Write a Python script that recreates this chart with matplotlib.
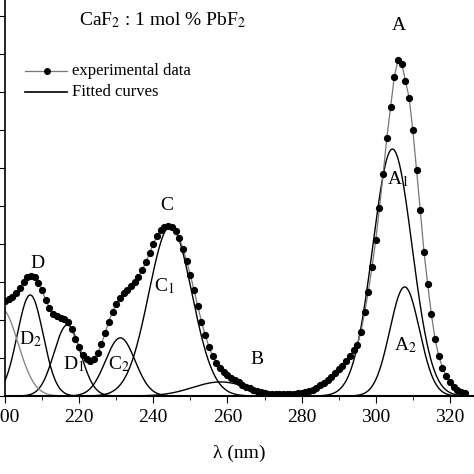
import numpy as np
import matplotlib
matplotlib.use("Agg")
import matplotlib.pyplot as plt

plt.rcParams['font.family'] = ['Liberation Serif', 'DejaVu Serif']
plt.rcParams['mathtext.fontset'] = 'stix'

# experimental data (nm, intensity in arbitrary units)
exp_x = list(range(200, 325))
exp_y = [2.5, 2.55, 2.6, 2.7, 2.85, 3.0, 3.12, 3.16, 3.12, 2.98, 2.78,
         2.52, 2.32, 2.17, 2.1, 2.06, 2.02, 1.94, 1.76, 1.5, 1.28,
         1.08, 0.97, 0.93, 0.98, 1.12, 1.36, 1.66, 1.96, 2.22, 2.42,
         2.58, 2.7, 2.8, 2.9, 3.0, 3.14, 3.32, 3.52, 3.76, 4.0,
         4.22, 4.38, 4.46, 4.48, 4.45, 4.33, 4.15, 3.88, 3.55, 3.18,
         2.78, 2.36, 1.96, 1.6, 1.3, 1.05, 0.88, 0.75, 0.64, 0.56,
         0.48, 0.42, 0.36, 0.3, 0.25, 0.2, 0.16, 0.13, 0.1, 0.08,
         0.06, 0.05, 0.04, 0.04, 0.04, 0.04, 0.05, 0.06, 0.07, 0.08,
         0.1, 0.13, 0.17, 0.22, 0.28, 0.35, 0.42, 0.5, 0.6, 0.7,
         0.8, 0.92, 1.05, 1.2, 1.35, 1.68, 2.2, 2.75, 3.4, 4.1,
         4.95, 5.85, 6.8, 7.6, 8.4, 8.84, 8.75, 8.3, 7.85, 7.0,
         5.95, 4.9, 3.8, 2.95, 2.15, 1.5, 1.05, 0.75, 0.52, 0.36,
         0.24, 0.16, 0.1, 0.07]

# fitted gaussian components: name, center (nm), amplitude, sigma (nm)
comp_names = ['A1', 'A2', 'B', 'C1', 'C2', 'D1', 'D2', 'D3']
comp_center = [304.5, 307.8, 258.1, 244.6, 231.1, 216.8, 206.8, 199.0]
comp_amp = [6.5, 2.87, 0.37, 4.47, 1.53, 1.87, 2.66, 2.3]
comp_sigma = [5.3, 4.0, 7.5, 5.8, 4.0, 3.6, 3.5, 4.5]

fig = plt.figure(figsize=(4.74, 4.74), dpi=100)
ax = fig.add_axes([5/474, 78/474, 1 - 5/474, 396/474])
xx = np.linspace(195, 330, 1200)
for n, c, a, s in zip(comp_names, comp_center, comp_amp, comp_sigma):
    col = '#888888' if n == 'D3' else 'black'
    ax.plot(xx, a*np.exp(-(xx-c)**2/(2*s*s)), color=col, lw=1.0)
ax.plot(exp_x, exp_y, color='#777777', lw=0.9, marker='o', ms=4.2,
        mfc='black', mec='black')

ax.set_xlim(200, 326.5)
ax.set_ylim(0, 396/38)
ax.set_xticks(range(200, 321, 20))
ax.set_xticks(range(210, 326, 10), minor=True)
ax.set_yticks(np.arange(0, 10.5, 1))
ax.set_yticklabels([])
ax.tick_params(axis='x', direction='out', length=5, labelsize=14, pad=4)
ax.tick_params(axis='x', which='minor', direction='out', length=3)
ax.tick_params(axis='y', direction='out', length=5)
for s in ['top', 'right']:
    ax.spines[s].set_visible(False)
ax.spines['left'].set_linewidth(1.2)
ax.spines['bottom'].set_linewidth(1.5)

ax.set_xlabel('λ (nm)', fontsize=14, labelpad=14)

fs = 14
def lab(x, y, t):
    ax.text(x, y, t, fontsize=fs, ha='center', va='center')
lab(306.2, 9.75, 'A')
lab(306.0, 5.7, 'A$_1$')
lab(308.0, 1.35, 'A$_2$')
lab(243.5, 5.0, 'C')
lab(243.0, 2.9, 'C$_1$')
lab(230.8, 0.85, 'C$_2$')
lab(208.8, 3.5, 'D')
lab(207.0, 1.5, 'D$_2$')
lab(218.5, 0.85, 'D$_1$')
lab(268.0, 0.95, 'B')
ax.text(220, 9.9, 'CaF$_2$ : 1 mol % PbF$_2$', fontsize=14, ha='left', va='center')

# legend
ax.plot([205.5, 216.8], [8.55, 8.55], color='#777777', lw=0.9)
ax.plot([211.2], [8.55], 'o', color='black', ms=4)
ax.text(218, 8.55, 'experimental data', fontsize=12, va='center')
ax.plot([205.5, 216.8], [8.0, 8.0], color='black', lw=1.2)
ax.text(218, 8.0, 'Fitted curves', fontsize=12, va='center')

fig.savefig('out.png', dpi=100)
